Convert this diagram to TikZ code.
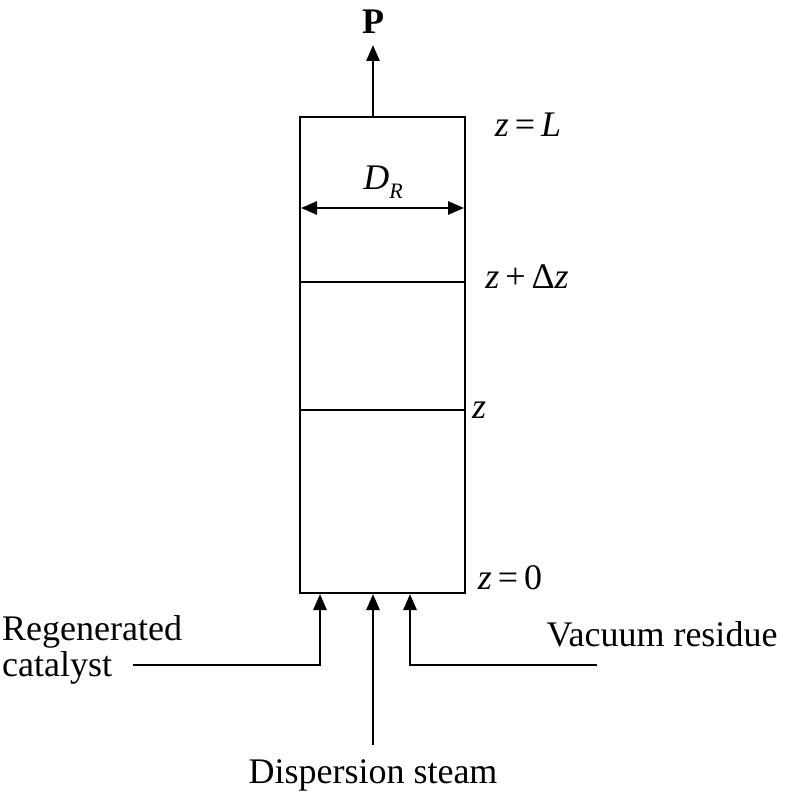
\documentclass[tikz,border=0pt]{standalone}
\usepackage{fontspec}
\setmainfont{Liberation Serif}
\usetikzlibrary{arrows.meta}
\begin{document}
\begin{tikzpicture}[x=1pt,y=-1pt,
  box/.style={line width=1.8pt},
  flow/.style={line width=2.8pt,-{Triangle[length=16pt,width=13pt]}},
  dim/.style={line width=2.8pt,{Triangle[length=16pt,width=13pt]}-{Triangle[length=16pt,width=13pt]}},
  lbl/.style={font=\fontsize{36}{40}\selectfont,inner sep=0pt}]
\useasboundingbox (0,0) rectangle (785,799);
\draw[box] (300,117) rectangle (465,593);
\coordinate (l1a) at (300,282); \coordinate (l1b) at (465,282);
\coordinate (l2a) at (300,410); \coordinate (l2b) at (465,410);
\draw[box] (l1a) -- (l1b);
\draw[box] (l2a) -- (l2b);
\coordinate (ptop) at (373,117); \coordinate (pend) at (373,45);
\draw[flow] (ptop) -- (pend);
\node[lbl] (P) at (373,22) {\textbf{P}};
\coordinate (dl) at (301,208); \coordinate (dr) at (464,208);
\draw[dim] (dl) -- (dr);
\node[lbl] (DR) at (383,182) {\textit{D}\raisebox{-0.25em}{\fontsize{22}{24}\selectfont\textit{R}}};
\node[lbl] (zL) at (528,125) {\textit{z}\,=\,\textit{L}};
\node[lbl] (zdz) at (527,277) {\textit{z}\,+\,Δ\textit{z}};
\node[lbl] (z) at (479,410) {\textit{z}};
\node[lbl] (z0) at (510,578) {\textit{z}\,=\,0};
\coordinate (cs) at (133,665); \coordinate (cc) at (320,665); \coordinate (ce) at (320,594);
\draw[flow] (cs) -- (cc) -- (ce);
\coordinate (ss) at (373,745); \coordinate (se) at (373,594);
\draw[flow] (ss) -- (se);
\coordinate (vs) at (597,665); \coordinate (vc) at (410,665); \coordinate (ve) at (410,594);
\draw[flow] (vs) -- (vc) -- (ve);
\node[lbl,anchor=west] (reg) at (2,632) {Regenerated};
\node[lbl,anchor=west] (cat) at (2,668) {catalyst};
\node[lbl] (vac) at (662,634) {Vacuum residue};
\node[lbl] (dis) at (373,775) {Dispersion steam};
\end{tikzpicture}
\end{document}
